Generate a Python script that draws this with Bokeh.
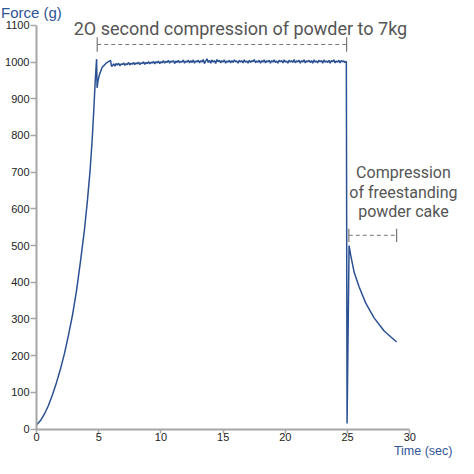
from bokeh.plotting import figure
from bokeh.models import Range1d, Label
from bokeh.embed import file_html
from bokeh.resources import INLINE

# ---- data ----
rise_t = [0.0, 0.32, 0.64, 0.96, 1.29, 1.61, 1.93, 2.25, 2.57, 2.89, 3.22, 3.54, 3.86, 4.10, 4.30, 4.46, 4.61, 4.72, 4.83]
rise_f = [11, 23, 41, 64, 94, 127, 164, 206, 256, 310, 378, 458, 545, 625, 702, 780, 872, 950, 1008]

settle_t = [4.87, 4.93, 5.05, 5.27, 5.63, 5.95, 6.03]
settle_f = [930, 946, 965, 985, 998, 1005, 988]

# plateau, one reading every 0.1 s from 6.1 s to 24.9 s
plateau_f = [990, 995, 989, 996, 992, 997, 990, 995, 993, 998,
             991, 996, 993, 999, 992, 997, 994, 999, 993, 998,
             995, 1000, 993, 998, 996, 1001, 994, 999, 996, 1001,
             995, 1000, 997, 1002, 995, 1001, 998, 1003, 996, 1001,
             998, 1004, 997, 1002, 999, 1005, 997, 1003, 1000, 1004,
             996, 1003, 999, 1005, 998, 1002, 1000, 1006, 997, 1003,
             1000, 1005, 998, 1004, 999, 1006, 997, 1003, 1001, 1005,
             998, 1004, 1000, 1007, 996, 1003, 1009, 999, 1005, 997,
             1006, 1000, 1004, 996, 1007, 1001, 1005, 998, 1004, 1000,
             1006, 997, 1003, 1000, 1005, 998, 1004, 999, 1006, 1001,
             1003, 997, 1005, 1000, 1004, 998, 1006, 1000, 1003, 997,
             1005, 999, 1004, 1001, 1007, 998, 1003, 1000, 1005, 997,
             1004, 1000, 1006, 998, 1003, 1001, 1005, 997, 1004, 1000,
             1006, 999, 1003, 997, 1005, 1001, 1004, 998, 1006, 1000,
             1003, 997, 1005, 1000, 1004, 999, 1007, 998, 1003, 1001,
             1005, 997, 1004, 1000, 1006, 998, 1003, 1001, 1005, 999,
             1004, 997, 1006, 1000, 1003, 998, 1005, 1001, 1004, 997,
             1006, 1000, 1003, 999, 1005, 997, 1004, 1001, 1006, 998,
             1003, 1000, 1005, 998, 1004, 1001, 1003, 999, 1002]
plateau_t = [round(6.1 + 0.1 * i, 2) for i in range(len(plateau_f))]

release_t = [24.96, 25.12, 25.26, 25.53, 25.93, 26.46, 27.13, 27.94, 28.94]
release_f = [15, 500, 472, 427, 387, 343, 303, 267, 237]

time_all = rise_t + settle_t + plateau_t + release_t
force_all = rise_f + settle_f + plateau_f + release_f

x_ticks = [0, 5, 10, 15, 20, 25, 30]
y_ticks = [0, 100, 200, 300, 400, 500, 600, 700, 800, 900, 1000, 1100]

title_text = "2O second compression of powder to 7kg"
side_text = ["Compression", "of freestanding", "powder cake"]

# ---- styling ----
LINE = "#2b5192"
AXIS = "#a6a6a6"
BLUE_LBL = "#2f5597"
GRAY_TXT = "#555555"
DASH = "#777777"

p = figure(width=458, height=458, output_backend="svg", toolbar_location=None,
           x_range=Range1d(-2.893, 33.914), y_range=Range1d(-80.4, 1167.9),
           min_border_left=0, min_border_right=0, min_border_top=0, min_border_bottom=0)
p.outline_line_color = None
p.grid.visible = False
p.background_fill_color = "white"
p.border_fill_color = "white"

for ax in (p.xaxis[0], p.yaxis[0]):
    ax.fixed_location = 0
    ax.axis_line_color = AXIS
    ax.axis_line_width = 2
    ax.major_tick_line_color = AXIS
    ax.major_tick_line_width = 1.5
    ax.major_tick_in = 0
    ax.minor_tick_line_color = None
    ax.major_label_text_font = "Liberation Sans"
    ax.major_label_text_color = "#222222"
    ax.major_label_text_font_size = "11px"

p.xaxis.bounds = (0, 30)
p.yaxis.bounds = (0, 1100)
p.xaxis.ticker = x_ticks
p.yaxis.ticker = y_ticks
p.xaxis.major_tick_out = 4
p.yaxis.major_tick_out = 6
p.yaxis.major_label_standoff = 1
p.xaxis.major_label_standoff = 0

p.line(time_all, force_all, line_color=LINE, line_width=1.5)

# brackets
top_y, top_x0, top_x1 = 1048, 4.88, 24.92
p.segment(x0=[top_x0], y0=[top_y], x1=[top_x1], y1=[top_y], line_color=DASH, line_width=1, line_dash="4 3")
p.segment(x0=[top_x0, top_x1], y0=[top_y - 20, top_y - 20], x1=[top_x0, top_x1], y1=[top_y + 20, top_y + 20],
          line_color=DASH, line_width=1.2)

r_y, r_x0, r_x1 = 528, 25.1, 28.94
p.segment(x0=[r_x0], y0=[r_y], x1=[r_x1], y1=[r_y], line_color=DASH, line_width=1, line_dash="4 3")
p.segment(x0=[r_x0, r_x1], y0=[r_y - 18, r_y - 18], x1=[r_x0, r_x1], y1=[r_y + 18, r_y + 18],
          line_color=DASH, line_width=1.2)

# texts
p.add_layout(Label(x=16.39, y=1091.6, text=title_text, text_align="center", text_baseline="alphabetic",
                   text_font="Roboto", text_font_size="18px", text_color=GRAY_TXT))
for txt, yy in zip(side_text, [699.5, 643.7, 591.6]):
    p.add_layout(Label(x=29.49, y=yy, text=txt, text_align="center", text_baseline="alphabetic",
                       text_font="Roboto", text_font_size="16px", text_color=GRAY_TXT))

p.add_layout(Label(x=-2.853, y=1134.8, text="Force (g)", text_align="left", text_baseline="alphabetic",
                   text_font="Liberation Sans", text_font_size="15px", text_color=BLUE_LBL))
p.add_layout(Label(x=33.43, y=-58.6, text="Time (sec)", text_align="right", text_baseline="alphabetic",
                   text_font="Liberation Sans", text_font_size="12.5px", text_color=BLUE_LBL))

open("out.html", "w").write(file_html(p, INLINE))
